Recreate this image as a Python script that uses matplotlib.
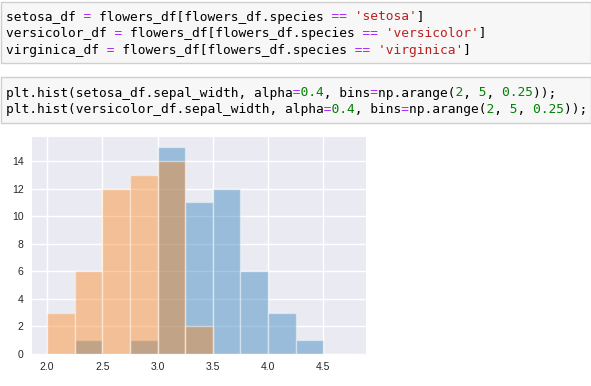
import numpy as np
import matplotlib
matplotlib.use("Agg")
import matplotlib.pyplot as plt
from matplotlib.patches import Rectangle

# histogram data
bin_edges = [2.0, 2.25, 2.5, 2.75, 3.0, 3.25, 3.5, 3.75, 4.0, 4.25, 4.5, 4.75]
setosa_counts = [0, 1, 0, 1, 15, 11, 12, 6, 3, 1, 0]
versicolor_counts = [3, 6, 12, 13, 14, 2, 0, 0, 0, 0, 0]
x_ticks = [2.0, 2.5, 3.0, 3.5, 4.0, 4.5]
y_ticks = [0, 2, 4, 6, 8, 10, 12, 14]

# notebook cells: list of lines, each line a list of (text, kind)
cell1 = [
    [("setosa_df ", "n"), ("=", "o"), (" flowers_df[flowers_df.species ", "n"),
     ("==", "o"), (" ", "n"), ("'setosa'", "s"), ("]", "n")],
    [("versicolor_df ", "n"), ("=", "o"), (" flowers_df[flowers_df.species ", "n"),
     ("==", "o"), (" ", "n"), ("'versicolor'", "s"), ("]", "n")],
    [("virginica_df ", "n"), ("=", "o"), (" flowers_df[flowers_df.species ", "n"),
     ("==", "o"), (" ", "n"), ("'virginica'", "s"), ("]", "n")],
]
cell2 = [
    [("plt.hist(setosa_df.sepal_width, alpha", "n"), ("=", "o"), ("0.4", "d"),
     (", bins", "n"), ("=", "o"), ("np.arange(", "n"), ("2", "d"), (", ", "n"),
     ("5", "d"), (", ", "n"), ("0.25", "d"), ("));", "n")],
    [("plt.hist(versicolor_df.sepal_width, alpha", "n"), ("=", "o"), ("0.4", "d"),
     (", bins", "n"), ("=", "o"), ("np.arange(", "n"), ("2", "d"), (", ", "n"),
     ("5", "d"), (", ", "n"), ("0.25", "d"), ("));", "n")],
]
colors = {"n": "#000000", "o": "#aa22ff", "s": "#ba2121", "d": "#008000"}

W, H = 591, 386
fig = plt.figure(figsize=(W / 100, H / 100), dpi=100)
fig.patch.set_facecolor("white")

code_fs = 9.25


def draw_cell(lines, top, bottom, first_y, step):
    fig.patches.append(Rectangle((1 / W, 1 - bottom / H), (W - 1) / W, (bottom - top) / H,
                                 transform=fig.transFigure, facecolor="#f7f7f7",
                                 edgecolor="#cfcfcf", linewidth=1, zorder=0))
    for i, line in enumerate(lines):
        y = 1 - (first_y + i * step) / H
        # one layer per colour; other characters become spaces (monospace keeps alignment)
        for kind, color in colors.items():
            layer = "".join(t if k == kind else " " * len(t) for t, k in line)
            if layer.strip():
                fig.text(6 / W, y, layer, family="DejaVu Sans Mono",
                         fontsize=code_fs, color=color, va="center", ha="left")


draw_cell(cell1, 2, 63, 17, 16.6)
draw_cell(cell2, 77, 123, 93, 16.6)

# histogram axes
ax = fig.add_axes([32 / W, (H - 354) / H, 334 / W, 217 / H])
ax.set_facecolor("#eaeaf2")
for s in ax.spines.values():
    s.set_visible(False)
ax.grid(True, color="white", linewidth=1)
ax.set_axisbelow(True)

ax.hist(bin_edges[:-1], bins=bin_edges, weights=setosa_counts, alpha=0.4,
        color="#1f77b4", edgecolor="white", linewidth=1)
ax.hist(bin_edges[:-1], bins=bin_edges, weights=versicolor_counts, alpha=0.4,
        color="#ff7f0e", edgecolor="white", linewidth=1)

ax.set_xticks(x_ticks)
ax.set_yticks(y_ticks)
ax.set_xticklabels([f"{t:.1f}" for t in x_ticks])
ax.tick_params(length=0, labelsize=7.5, colors="#262626", pad=6)
for lab in ax.get_xticklabels() + ax.get_yticklabels():
    lab.set_family("Liberation Sans")
ax.set_xlim(1.8625, 4.8875)
ax.set_ylim(0, 15.75)

fig.savefig("out.png", dpi=100)
